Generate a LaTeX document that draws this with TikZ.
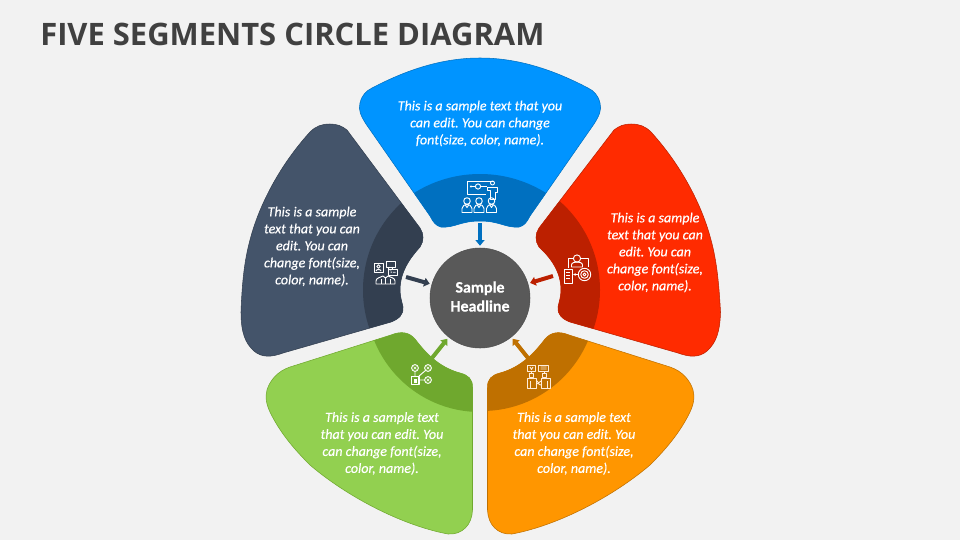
\documentclass[tikz,border=0pt]{standalone}
\usepackage{fontspec}
\setmainfont{Carlito}
\newfontfamily\titlefont{Open Sans}
\newfontfamily\bodyfont[FakeBold=0.35]{Carlito Italic}
\newfontfamily\hubfont[FakeBold=0.3]{Carlito Bold}
\usetikzlibrary{arrows.meta}
\definecolor{pagebg}{HTML}{F2F2F2}
\definecolor{titlecol}{HTML}{404040}
\definecolor{hubcol}{HTML}{595959}
\definecolor{bluea}{HTML}{0094FF}\definecolor{blueb}{HTML}{0070C0}
\definecolor{slatea}{HTML}{44546A}\definecolor{slateb}{HTML}{333F50}
\definecolor{reda}{HTML}{FF2B00}\definecolor{redb}{HTML}{BC2000}
\definecolor{greena}{HTML}{92D050}\definecolor{greenb}{HTML}{6FA82E}
\definecolor{orangea}{HTML}{FF9600}\definecolor{orangeb}{HTML}{BF7000}
\tikzset{
  px/.style={x=0.75pt,y=-0.75pt},
  bodytext/.style={text=white,font=\bodyfont\frenchspacing\fontsize{10.5}{12.75}\selectfont,align=center,inner sep=0pt},
  heading/.style={text=titlecol,font=\titlefont\fontsize{23.2}{28}\selectfont\bfseries,anchor=west,inner sep=0pt},
  hubnode/.style={circle,fill=hubcol,draw=hubcol!90!black,line width=0.4pt,minimum size=75pt,inner sep=0pt},
  hubtext/.style={text=white,align=center,inner sep=0pt,font=\hubfont\fontsize{12}{14.2}\selectfont},
  pointer/.style={line width=3pt,-{Triangle[width=6.6pt,length=4.2pt]},shorten >=1.5pt},
  icon/.style={draw=white,line width=0.7pt,fill=none,line join=round},
  paleicon/.style={draw=white!85!orange,line width=0.65pt,fill=none,line join=round}
}
\def\bluepath{(430,216) -- (366,124) .. controls (361,116) and (358,110) .. (360,103) .. controls (362,95) and (366,91) .. (372,88) .. controls (410,68) and (445,58) .. (480,58) .. controls (515,58) and (550,68) .. (588,88) .. controls (594,91) and (598,95) .. (600,103) .. controls (602,110) and (599,116) .. (594,124) -- (530,216) .. controls (527,222) and (524,226) .. (519,227) .. controls (505,228) and (500,221) .. (480,221) .. controls (460,221) and (455,228) .. (441,227) .. controls (436,226) and (433,222) .. (430,216) -- cycle}
\def\slatepath{(347,130) -- (420,228) .. controls (424,234) and (424,241) .. (420,247) .. controls (410,258) and (400,272) .. (400,290) .. controls (400,297) and (402,302) .. (403,307) .. controls (404,314) and (399,319) .. (391,322) -- (283,353) .. controls (272,357) and (262,358) .. (254,351) .. controls (245,343) and (241,332) .. (241,312) .. controls (242,285) and (244,262) .. (250,240) .. controls (259,205) and (280,165) .. (310,132) .. controls (316,126) and (322,124) .. (330,124) .. controls (337,124) and (342,126) .. (347,130) -- cycle}
\def\redpath{(614,130) -- (539,228) .. controls (535,234) and (535,241) .. (539,247) .. controls (551,258) and (561,272) .. (561,290) .. controls (561,297) and (559,302) .. (558,307) .. controls (557,314) and (562,319) .. (570,322) -- (678,353) .. controls (689,357) and (699,358) .. (707,351) .. controls (716,343) and (720,332) .. (720.5,312) .. controls (719,285) and (717,262) .. (711,240) .. controls (702,205) and (681,165) .. (651,132) .. controls (645,126) and (639,124) .. (631,124) .. controls (624,124) and (619,126) .. (614,130) -- cycle}
\def\greenpath{(290,367) -- (391,335) .. controls (401,331) and (409,332) .. (415,339) .. controls (425,352) and (438,367) .. (460,373) .. controls (468,375) and (473,379) .. (472.5,388) -- (472.5,510) .. controls (472,525) and (462,535) .. (448,534) .. controls (400,525) and (345,495) .. (310,465) .. controls (295,450) and (282,435) .. (272,416) .. controls (266,405) and (265,397) .. (267,390) .. controls (270,380) and (278,371) .. (290,367) -- cycle}
\def\orangepath{(670,367) -- (569,335) .. controls (559,331) and (551,332) .. (545,339) .. controls (535,352) and (522,367) .. (500,373) .. controls (492,375) and (487,379) .. (487.5,388) -- (487.5,510) .. controls (488,525) and (498,535) .. (512,534) .. controls (560,525) and (615,495) .. (650,465) .. controls (665,450) and (678,435) .. (688,416) .. controls (694,405) and (695,397) .. (693,390) .. controls (690,380) and (682,371) .. (670,367) -- cycle}
% a seated person: head and shoulders
\newcommand{\sitter}[3][icon]{%
  \draw[#1] (#2,#3-4.5) circle (3.3);
  \draw[#1] (#2-5,#3+7) -- (#2-5,#3+3) .. controls (#2-5,#3) and (#2-2,#3-1) .. (#2,#3-1) .. controls (#2+2,#3-1) and (#2+5,#3) .. (#2+5,#3+3) -- (#2+5,#3+7) -- cycle;
  \draw[#1] (#2-2,#3-1) -- (#2,#3+2) -- (#2+2,#3-1);
}
\begin{document}
\begin{tikzpicture}[px]
\useasboundingbox (0,0) rectangle (960,540);
\fill[pagebg] (0,0) rectangle (960,540);
\node[heading] (title) at (40,34.5) {FIVE SEGMENTS CIRCLE DIAGRAM};

% segments
\filldraw[fill=bluea,draw=blueb,line width=0.4pt] \bluepath;
\begin{scope}\clip \bluepath; \fill[blueb] (480,298) circle (124); \end{scope}
\filldraw[fill=slatea,draw=slateb,line width=0.4pt] \slatepath;
\begin{scope}\clip \slatepath; \fill[slateb] (481,290) circle (118); \end{scope}
\filldraw[fill=reda,draw=redb,line width=0.4pt] \redpath;
\begin{scope}\clip \redpath; \fill[redb] (482,290) circle (118); \end{scope}
\filldraw[fill=greena,draw=greenb,line width=0.4pt] \greenpath;
\begin{scope}\clip \greenpath; \fill[greenb] (480,298) circle (114); \end{scope}
\filldraw[fill=orangea,draw=orangeb,line width=0.4pt] \orangepath;
\begin{scope}\clip \orangepath; \fill[orangeb] (482,296) circle (115); \end{scope}

% hub and pointers
\node[hubnode] (hub) at (480,298) {};
\node[hubtext] (hublabel) at (480,296.5) {Sample\\Headline};
\coordinate (fromblue) at (480,223);
\coordinate (fromslate) at (406,277);
\coordinate (fromred) at (553,276);
\coordinate (fromgreen) at (432,358);
\coordinate (fromorange) at (528,358);
\draw[pointer,blueb] (fromblue) -- (hub);
\draw[pointer,slateb] (fromslate) -- (hub);
\draw[pointer,redb] (fromred) -- (hub);
\draw[pointer,greenb] (fromgreen) -- (hub);
\draw[pointer,orangeb] (fromorange) -- (hub);

% texts
\node[bodytext] (tblue) at (480,123.5) {This is a sample text that you\\can edit. You can change\\font(size, color, name).};
\node[bodytext] (tslate) at (312,246.5) {This is a sample\\text that you can\\edit. You can\\change font(size,\\color, name).};
\node[bodytext] (tred) at (655,252.5) {This is a sample\\text that you can\\edit. You can\\change font(size,\\color, name).};
\node[bodytext] (tgreen) at (382,443.5) {This is a sample text\\that you can edit. You\\can change font(size,\\color, name).};
\node[bodytext] (torange) at (574,443.5) {This is a sample text\\that you can edit. You\\can change font(size,\\color, name).};

% icon: presenter and audience
\draw[icon] (493,181) -- (467,181) -- (467,194) -- (486,194);
\draw[icon] (478,186.5) circle (2.6);
\fill[white] (471,186.5) circle (1.1);
\draw[icon] (471,186.5) -- (475.4,186.5) (480.6,186.5) -- (487,186.5);
\draw[icon] (492.5,183) circle (2);
\draw[icon] (487,187.5) -- (497,187.5) -- (497,192) -- (495.5,192) -- (495.5,199) -- (490,199) -- (490,190) -- (487,190) -- cycle;
\sitter{467}{205.5}\sitter{479}{205.5}\sitter{491.5}{205.5}

% icon: consultant and screens
\draw[icon] (374,263) rectangle (383,272);
\draw[icon] (378.5,266.5) circle (1.8);
\draw[icon] (376,271) .. controls (376,269) and (381,269) .. (381,271);
\draw[icon] (386,261) rectangle (395,267);
\draw[icon] (388,267) .. controls (388,271) and (393,271) .. (393,267);
\draw[icon] (388.5,269.5) rectangle (397,275);
\fill[white] (390.5,271.7) rectangle (392,272.6) (393,271.9) rectangle (395.5,272.5);
\draw[icon] (376,284) -- (376,281) .. controls (376,278) and (380,277.5) .. (383,276) -- (385.5,278) -- (388,276) .. controls (391,277.5) and (395,278) .. (395,281) -- (395,284) -- cycle;
\draw[icon] (381,279) -- (381,284) (390,279) -- (390,284) (385.5,278) -- (385.5,284);

% icon: target and report
\draw[icon] (577,258.5) circle (3.6);
\draw[icon] (571.5,267) -- (571.5,265) .. controls (571.5,262.5) and (575,262) .. (577,262) .. controls (579,262) and (582.5,262.5) .. (582.5,265) -- (582.5,267) -- cycle;
\draw[icon] (573,258) -- (568,258) -- (568,268);
\draw[icon] (581,258.5) -- (588,258.5) -- (588,267);
\draw[icon] (564,269.5) rectangle (572,283);
\draw[icon] (566,272.5) -- (570,272.5) (566,275.5) -- (570,275.5) (566,278.5) -- (570,278.5);
\draw[icon] (584.5,274.5) circle (6.2) (584.5,274.5) circle (3.8) (584.5,274.5) circle (1.5);
\draw[icon,-{Latex[length=2pt,width=2.2pt]}] (578,274.5) -- (573,274.5);

% icon: network of people
\draw[icon] (415,368) circle (3.4) (428,368) circle (3.4) (428,380) circle (3.4);
\draw[icon,line width=0.45pt] (413.6,366.6) -- (416.4,369.4) (416.4,366.6) -- (413.6,369.4) (426.6,366.6) -- (429.4,369.4) (429.4,366.6) -- (426.6,369.4) (426.6,378.6) -- (429.4,381.4) (429.4,378.6) -- (426.6,381.4);
\draw[icon,line width=0.8pt] (411.5,376.5) rectangle (419,384.5);
\fill[white] (413.5,378.5) rectangle (417,382.5);
\draw[icon] (415,371.4) -- (415,376.5) (419,376) -- (425.6,370.4) (419,380) -- (424.6,380);

% icon: two people exchanging ideas
\draw[paleicon] (527.5,365) rectangle (535.5,371) (538.5,365) rectangle (548.5,371);
\draw[paleicon] (530,367) -- (531.5,369.5) -- (533,367) (540.5,367) -- (546.5,367) (540.5,369) -- (546.5,369);
\draw[paleicon] (531.5,371) -- (531.5,373) (544,371) -- (544,373);
\draw[paleicon] (529.5,373) rectangle (533.5,377) (542,373) rectangle (546,377);
\draw[paleicon] (527,388) -- (527,378) -- (536,378) -- (536,388) -- cycle;
\draw[paleicon] (541,388) -- (541,378) -- (550,378) -- (550,388) -- cycle;
\draw[paleicon] (530,381) -- (530,388) (547,381) -- (547,388);
\draw[paleicon] (536,380.5) .. controls (539,381) and (537.5,385) .. (541,385) (536,384.5) .. controls (538,384) and (539,382) .. (541,381);
\end{tikzpicture}
\end{document}
